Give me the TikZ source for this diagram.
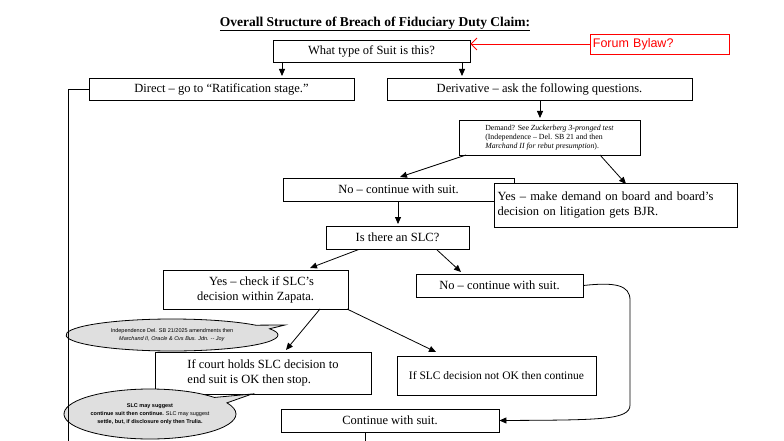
\documentclass[tikz,border=0pt]{standalone}
\usepackage{fontspec}
\setmainfont{Liberation Serif}
\newfontfamily\sansf{Liberation Sans}
\usetikzlibrary{shapes.callouts,arrows.meta}
\begin{document}
\begin{tikzpicture}[x=1pt,y=-1pt,
 bx/.style={draw,thick,fill=white,inner sep=3pt,font=\fontsize{12.5}{15}\selectfont},
 arr/.style={-{Triangle[length=7pt,width=6pt]},thick},
 co/.style={ellipse callout,draw,thick,fill=gray!25,font=\sansf\fontsize{5.5}{8}\selectfont,align=center,inner sep=1pt}]
\useasboundingbox (0,0) rectangle (784,441);
\node[font=\bfseries\fontsize{13.5}{16}\selectfont] (title) at (375,24) {\underline{Overall Structure of Breach of Fiduciary Duty Claim:}};
\node[bx,minimum width=197,minimum height=22] (suit) at (371.5,51) {What type of Suit is this?};
\node[draw=red,thick,text=red,font=\sansf\fontsize{12.5}{14}\selectfont,minimum width=139,minimum height=20,anchor=west,inner xsep=2pt,text width=134] (forum) at (590,44) {Forum Bylaw?};
\draw[red,thick,-{Straight Barb[length=6pt]}] (forum.west) -- (suit.east|-forum.west);
\node[bx,minimum width=265,minimum height=22] (direct) at (221.5,89) {Direct -- go to ``Ratification stage.''};
\node[bx,minimum width=305,minimum height=22] (deriv) at (539.5,89) {Derivative -- ask the following questions.};
\draw[arr] (282,62) -- (282,76);
\draw[arr] (462,62) -- (462,76);
\node[bx,minimum width=181,minimum height=35,align=left,font=\fontsize{7.8}{9}\selectfont,inner sep=2pt] (demand) at (549.5,137.5) {Demand? See \textit{Zuckerberg 3-pronged test}\\(Independence -- Del. SB 21 and then\\\textit{Marchand II for rebut presumption}).};
\draw[arr] (deriv.south-|540,0) -- (540,118);
\node[bx,minimum width=231,minimum height=23] (no1) at (398.5,189.5) {No -- continue with suit.};
\node[bx,minimum width=243,minimum height=44,align=left,text width=236] (yes1) at (615.5,205) {Yes -- make demand on board and board's decision on litigation gets BJR.};
\draw[arr] (466,155) -- (400,177);
\draw[arr] (600,155) -- (626,184);
\node[bx,minimum width=185,minimum height=39,align=left] (yes2) at (255.5,289.5) {\hspace*{12pt}Yes -- check if SLC's\\decision within Zapata.};
\node[bx,minimum width=167,minimum height=23] (no2) at (499.5,285.5) {No -- continue with suit.};
\draw[arr] (360,249) -- (310,268);
\draw[arr] (436,249) -- (461,272);
\node[bx,minimum width=143,minimum height=23] (slc) at (397.5,237.5) {Is there an SLC?};
\draw[arr] (398,201) -- (398,224);
\node[co,minimum width=212,minimum height=32,callout absolute pointer={(285,325)}] (c1) at (172,335) {Independence Del. SB 21/2025 amendments then\\ \textit{Marchand II, Oracle \& Cvs Bus. Jdn. -- Joy}};
\node[bx,minimum width=216,minimum height=42,align=left] (court) at (263,373) {If court holds SLC decision to\\end suit is OK then stop.};
\node[bx,minimum width=199,minimum height=39,font=\fontsize{11.5}{14}\selectfont] (notok) at (496.5,375.5) {If SLC decision not OK then continue};
\draw[arr] (320,309) -- (286,350);
\draw[arr] (347,309) -- (436,352);
\node[co,minimum width=172,minimum height=50,callout absolute pointer={(252,394)}] (c2) at (150,414) {\textbf{SLC may suggest}\\ \textbf{continue suit then continue.} SLC may suggest\\ \textbf{settle, but, if disclosure only then Trulia.}};
\node[bx,minimum width=218,minimum height=23] (cont) at (390,420.5) {Continue with suit.};
\draw[thick] (365,432) -- (365,441);
\draw[arr] (no2.east) .. controls (615,282) and (630,285) .. (630,300) -- (630,405) .. controls (630,420) and (600,420) .. (cont.east);
\draw[thick] (direct.west) -- (68,89) -- (68,441);
\end{tikzpicture}
\end{document}
